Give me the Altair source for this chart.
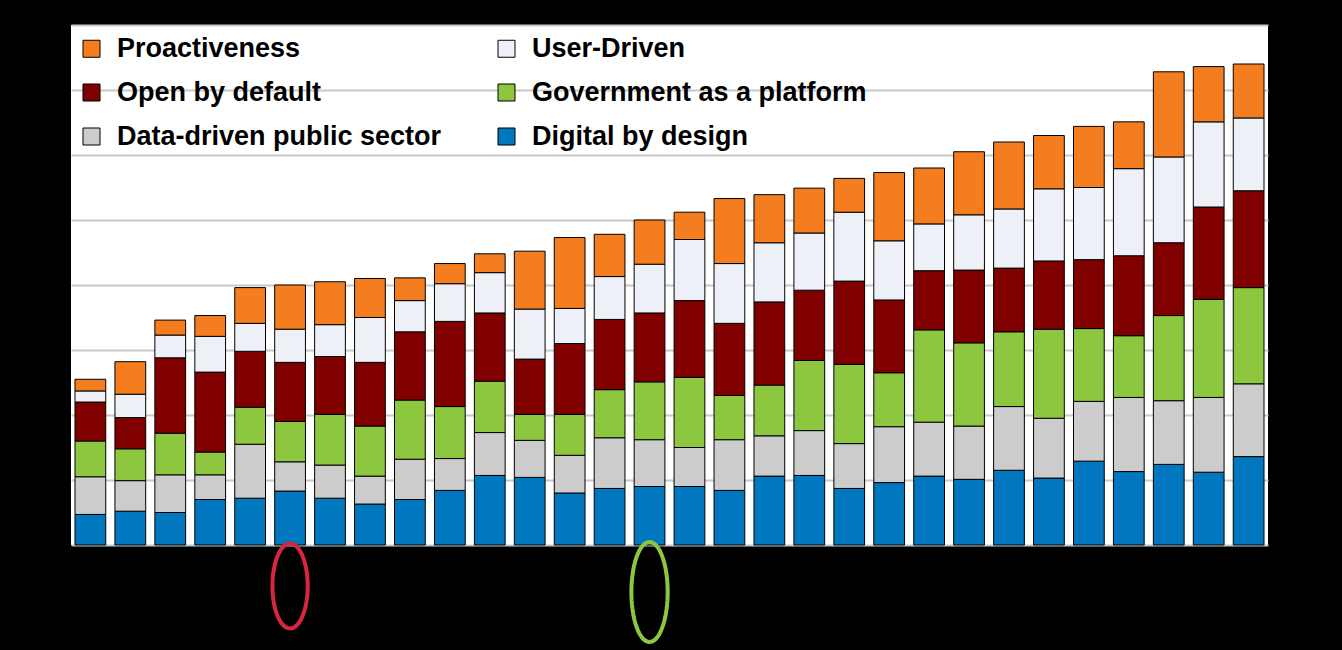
import numpy as np
import pandas as pd
import altair as alt

# Contribution of each dimension to the composite index, one value per country
digital_by_design = [0.047, 0.052, 0.050, 0.070, 0.072, 0.083, 0.072, 0.063, 0.070, 0.084,
                     0.107, 0.104, 0.080, 0.087, 0.090, 0.090, 0.084, 0.106, 0.107, 0.087,
                     0.096, 0.106, 0.101, 0.115, 0.103, 0.129, 0.113, 0.124, 0.112, 0.136]
data_driven = [0.058, 0.047, 0.058, 0.038, 0.083, 0.045, 0.051, 0.043, 0.062, 0.049,
               0.066, 0.057, 0.058, 0.078, 0.072, 0.060, 0.078, 0.062, 0.069, 0.069,
               0.086, 0.083, 0.082, 0.098, 0.092, 0.092, 0.114, 0.098, 0.115, 0.112]
gov_platform = [0.055, 0.049, 0.064, 0.035, 0.057, 0.062, 0.078, 0.077, 0.091, 0.080,
                0.079, 0.040, 0.063, 0.074, 0.089, 0.108, 0.068, 0.078, 0.108, 0.122,
                0.083, 0.142, 0.128, 0.115, 0.137, 0.112, 0.095, 0.131, 0.151, 0.148]
open_by_default = [0.060, 0.048, 0.116, 0.123, 0.086, 0.091, 0.089, 0.098, 0.105, 0.131,
                   0.105, 0.085, 0.109, 0.108, 0.106, 0.118, 0.111, 0.128, 0.108, 0.128,
                   0.112, 0.091, 0.112, 0.098, 0.105, 0.106, 0.123, 0.112, 0.142, 0.149]
user_driven = [0.017, 0.036, 0.035, 0.055, 0.043, 0.051, 0.049, 0.069, 0.048, 0.058,
               0.062, 0.077, 0.054, 0.066, 0.075, 0.094, 0.092, 0.091, 0.088, 0.106,
               0.091, 0.072, 0.085, 0.091, 0.111, 0.111, 0.134, 0.132, 0.131, 0.112]
proactiveness = [0.018, 0.050, 0.023, 0.032, 0.055, 0.068, 0.066, 0.060, 0.035, 0.031,
                 0.029, 0.089, 0.109, 0.065, 0.068, 0.042, 0.100, 0.074, 0.069, 0.052,
                 0.105, 0.086, 0.097, 0.103, 0.082, 0.094, 0.072, 0.131, 0.085, 0.083]

countries = [f"{i:02d}" for i in range(1, 31)]

# Stack order, bottom to top
dimensions = ["Digital by design", "Data-driven public sector", "Government as a platform",
              "Open by default", "User-Driven", "Proactiveness"]
series = [digital_by_design, data_driven, gov_platform, open_by_default, user_driven, proactiveness]
colors = {
    "Digital by design": "#0077BE",
    "Data-driven public sector": "#CCCCCC",
    "Government as a platform": "#8DC63F",
    "Open by default": "#800000",
    "User-Driven": "#EDF0F7",
    "Proactiveness": "#F47D20",
}
# Legend fills column by column, two columns of three
legend_order = ["Proactiveness", "Open by default", "Data-driven public sector",
                "User-Driven", "Government as a platform", "Digital by design"]

rows = []
for k, (dim, vals) in enumerate(zip(dimensions, series)):
    for c, v in zip(countries, vals):
        rows.append({"country": c, "dimension": dim, "value": v, "stack": k})
df = pd.DataFrame(rows)

# Highlighted countries
highlight_red = countries[5]
highlight_green = countries[14]

x_scale = alt.Scale(domain=countries, paddingInner=0.23, paddingOuter=0.1)

bars = alt.Chart(df).mark_bar(stroke="black", strokeWidth=1).encode(
    x=alt.X("country:N", scale=x_scale, axis=None, sort=countries),
    y=alt.Y("value:Q", stack="zero",
            scale=alt.Scale(domain=[0, 0.8], nice=False),
            axis=alt.Axis(values=[0, 0.1, 0.2, 0.3, 0.4, 0.5, 0.6, 0.7, 0.8],
                          labels=False, ticks=False, domain=False, title=None,
                          grid=True, gridColor="#C8C8C8", gridWidth=2)),
    color=alt.Color("dimension:N",
                    scale=alt.Scale(domain=legend_order,
                                    range=[colors[d] for d in legend_order]),
                    legend=alt.Legend(orient="none", legendX=7, legendY=10,
                                      columns=2, title=None, padding=0,
                                      symbolType="square", symbolSize=289,
                                      symbolStrokeColor="black", symbolStrokeWidth=1,
                                      symbolOpacity=1,
                                      labelFont="Liberation Sans", labelFontSize=27,
                                      labelFontWeight="bold", labelColor="black",
                                      labelLimit=0, labelOffset=12,
                                      rowPadding=16, columnPadding=51)),
    order=alt.Order("stack:Q", sort="ascending"),
)


def ellipse_path(ratio, n=72):
    t = np.linspace(0, 2 * np.pi, n, endpoint=False)
    pts = [f"{ratio * np.sin(a):.4f},{-np.cos(a):.4f}" for a in t]
    return "M" + " L".join(pts) + " Z"


red_ring = alt.Chart(pd.DataFrame({"country": [highlight_red]})).mark_point(
    shape=ellipse_path(0.415), filled=False, stroke="#D7263D", strokeWidth=4,
    size=85 ** 2, opacity=1,
).encode(x=alt.X("country:N", scale=x_scale, sort=countries), y=alt.value(561))

green_ring = alt.Chart(pd.DataFrame({"country": [highlight_green]})).mark_point(
    shape=ellipse_path(0.363), filled=False, stroke="#8DC63F", strokeWidth=4,
    size=100 ** 2, opacity=1,
).encode(x=alt.X("country:N", scale=x_scale, sort=countries), y=alt.value(567))

chart = alt.layer(bars, red_ring, green_ring).properties(
    width=1197, height=520,
    padding={"left": 71, "top": 25, "right": 74, "bottom": 105},
    autosize=alt.AutoSizeParams(type="none"),
    background="#000000",
).configure_view(fill="white", strokeWidth=0)

chart.save("out.html", embed_options={"renderer": "svg", "actions": False})
